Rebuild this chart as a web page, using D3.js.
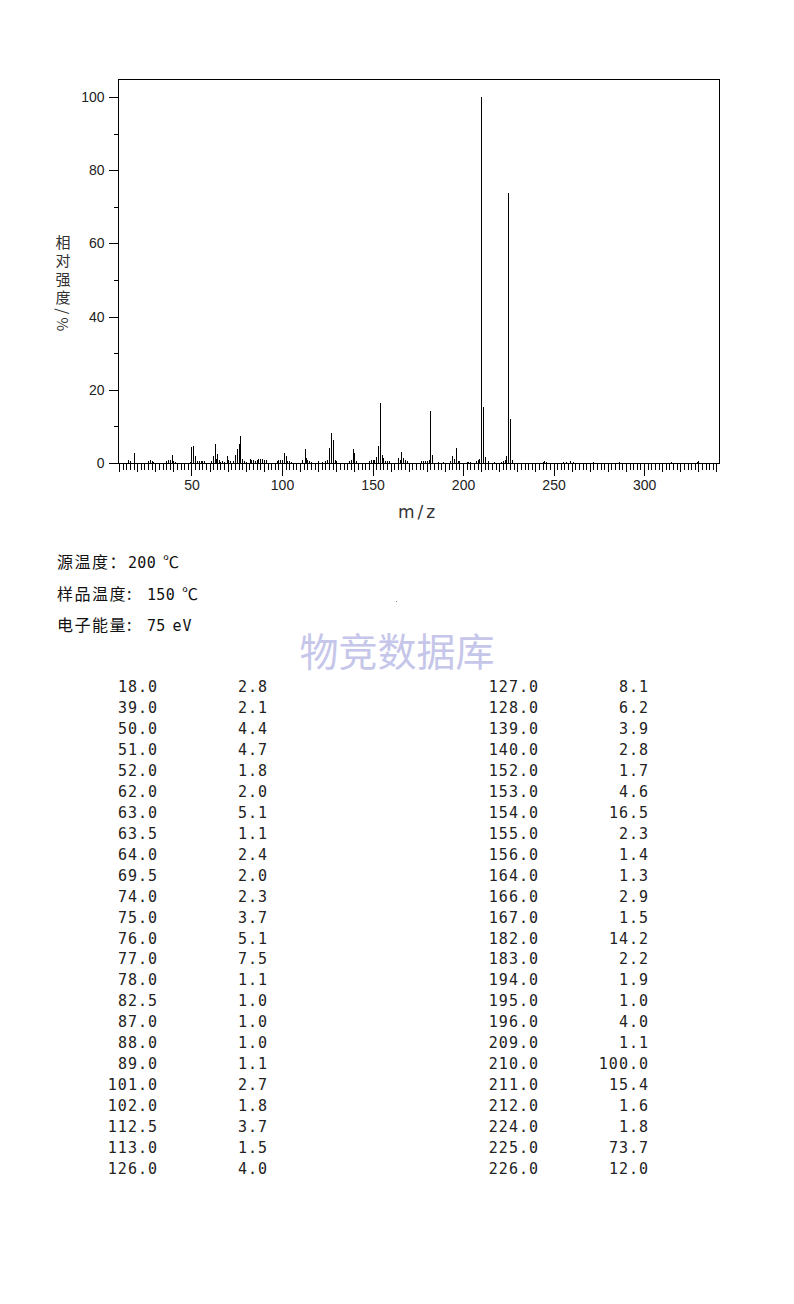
<!DOCTYPE html>
<html>
<head>
<meta charset="utf-8">
<script src="https://cdn.jsdelivr.net/npm/d3@7"></script>
<style>
  body { margin: 0; background: #fff; }
  svg { display: block; }
</style>
</head>
<body>
<svg id="chart" width="794" height="1304"></svg>
<script>
// peaks listed in the table (m/z, relative intensity %)
const tableMz = [18.0, 39.0, 50.0, 51.0, 52.0, 62.0, 63.0, 63.5, 64.0, 69.5, 74.0, 75.0,
  76.0, 77.0, 78.0, 82.5, 87.0, 88.0, 89.0, 101.0, 102.0, 112.5, 113.0, 126.0,
  127.0, 128.0, 139.0, 140.0, 152.0, 153.0, 154.0, 155.0, 156.0, 164.0, 166.0, 167.0,
  182.0, 183.0, 194.0, 195.0, 196.0, 209.0, 210.0, 211.0, 212.0, 224.0, 225.0, 226.0];
const tableInt = [2.8, 2.1, 4.4, 4.7, 1.8, 2.0, 5.1, 1.1, 2.4, 2.0, 2.3, 3.7,
  5.1, 7.5, 1.1, 1.0, 1.0, 1.0, 1.1, 2.7, 1.8, 3.7, 1.5, 4.0,
  8.1, 6.2, 3.9, 2.8, 1.7, 4.6, 16.5, 2.3, 1.4, 1.3, 2.9, 1.5,
  14.2, 2.2, 1.9, 1.0, 4.0, 1.1, 100.0, 15.4, 1.6, 1.8, 73.7, 12.0];

// small peaks (< 1 %)
const minorMz = [15, 16, 26, 27, 28, 29, 36, 37, 38, 40, 41, 49, 53, 54, 55, 56, 57, 61,
  65, 66, 67, 68, 70, 71, 73, 79, 80, 83, 84, 85, 86, 90, 91, 97, 98, 99, 100,
  103, 104, 105, 111, 114, 115, 116, 120, 122, 124, 125, 129, 130, 137, 138, 141,
  148, 149, 150, 151, 157, 158, 159, 165, 168, 169, 177, 178, 179, 180, 181, 186,
  189, 193, 197, 198, 202, 203, 204, 207, 208, 214, 217, 221, 222, 223, 227,
  244, 245, 246, 255, 257, 259, 261, 272, 286, 315, 329, 330];
const minorInt = [0.8, 0.5, 0.5, 0.8, 0.6, 0.4, 0.5, 0.8, 0.9, 0.6, 0.4, 0.4, 0.6, 0.5,
  0.5, 0.5, 0.5, 0.6, 0.8, 0.4, 0.5, 0.4, 0.7, 0.5, 0.5, 0.6, 0.4, 0.7, 0.7, 0.5,
  0.9, 0.8, 0.7, 0.6, 0.8, 0.9, 0.9, 0.5, 0.6, 0.4, 0.7, 0.9, 0.6, 0.4, 0.5, 0.4,
  0.6, 0.9, 0.8, 0.5, 0.6, 0.9, 0.6, 0.6, 0.9, 0.8, 0.7, 0.5, 0.5, 0.5, 0.9, 0.8,
  0.5, 0.5, 0.5, 0.5, 0.6, 0.9, 0.4, 0.4, 0.6, 0.6, 0.5, 0.4, 0.4, 0.4, 0.6, 0.8,
  0.5, 0.4, 0.4, 0.6, 0.9, 0.8, 0.4, 0.5, 0.4, 0.4, 0.4, 0.5, 0.3, 0.3, 0.3, 0.3,
  0.4, 0.5];

const xDomain = [9.4, 341.4];
const yDomain = [0, 104.9];
const xLabelTicks = [50, 100, 150, 200, 250, 300];
const yLabelTicks = [0, 20, 40, 60, 80, 100];

const infoLabels = ["源温度：", "样品温度:", "电子能量:"];
const infoValues = ["200", "150", "75"];
const infoUnits = ["℃", "℃", "eV"];
const watermark = "物竞数据库";

const svg = d3.select("#chart");
const plotL = 118, plotR = 719, plotT = 79, plotB = 463;

let x = d3.scaleLinear().domain(xDomain).range([plotL, plotR]);
let y = d3.scaleLinear().domain(yDomain).range([plotB, plotT]);

// peaks
const peaks = tableMz.map((m, i) => ({mz: m, v: tableInt[i]}))
  .concat(minorMz.map((m, i) => ({mz: m, v: minorInt[i]})));

svg.append("g")
  .selectAll("line")
  .data(peaks)
  .enter().append("line")
  .attr("x1", d => Math.round(x(d.mz)) + 0.5)
  .attr("x2", d => Math.round(x(d.mz)) + 0.5)
  .attr("y1", y(0))
  .attr("y2", d => y(d.v))
  .attr("stroke", "#000")
  .attr("stroke-width", 1)
  .attr("shape-rendering", "crispEdges");

// frame
svg.append("rect")
  .attr("x", plotL + 0.5).attr("y", plotT + 0.5)
  .attr("width", plotR - plotL).attr("height", plotB - plotT)
  .attr("fill", "none").attr("stroke", "#000")
  .attr("shape-rendering", "crispEdges");

// x axis
const xTicks = d3.range(10, 341, 2);
let xAxis = svg.append("g")
  .attr("transform", `translate(0,${plotB + 0.5})`)
  .call(d3.axisBottom(x).tickValues(xTicks).tickSizeOuter(0)
    .tickFormat(d => xLabelTicks.includes(d) ? d : ""));
xAxis.select(".domain").remove();
xAxis.selectAll(".tick line")
  .attr("y2", d => d % 50 === 0 ? 12 : (d % 10 === 0 ? 8 : 6))
  .attr("shape-rendering", "crispEdges");
xAxis.selectAll(".tick text")
  .attr("y", 17)
  .style("font-family", "'Liberation Sans', Arial, sans-serif")
  .style("font-size", "14px")
  .attr("fill", "#222");

// y axis
let yAxis = svg.append("g")
  .attr("transform", `translate(${plotL + 0.5},0)`)
  .call(d3.axisLeft(y).tickValues(d3.range(0, 101, 10)).tickSizeOuter(0)
    .tickFormat(d => yLabelTicks.includes(d) ? d : ""));
yAxis.select(".domain").remove();
yAxis.selectAll(".tick line")
  .attr("x2", d => d % 20 === 0 ? -10 : -5)
  .attr("shape-rendering", "crispEdges");
yAxis.selectAll(".tick text")
  .attr("x", -14)
  .style("font-family", "'Liberation Sans', Arial, sans-serif")
  .style("font-size", "14px")
  .attr("fill", "#222");

// axis titles
svg.append("text")
  .attr("x", 418).attr("y", 518)
  .attr("text-anchor", "middle")
  .style("font-family", "'DejaVu Sans', sans-serif")
  .style("font-size", "17px")
  .style("letter-spacing", "3px")
  .attr("fill", "#333")
  .text("m/z");

// vertical y title: CJK upright, "/%" turned sideways
svg.append("text")
  .attr("x", 63).attr("y", 235)
  .style("writing-mode", "vertical-rl")
  .style("font-family", "'Noto Sans CJK SC', sans-serif")
  .style("font-size", "15px")
  .style("letter-spacing", "3.3px")
  .attr("fill", "#333")
  .text("相对强度/%");

// info lines
const valueX = [128, 147, 147];
let info = svg.append("g").attr("fill", "#111");
infoLabels.forEach((lab, i) => {
  const yy = 568 + i * 31.5;
  info.append("text")
    .attr("x", 57).attr("y", yy)
    .style("font-family", "'Noto Sans CJK SC', sans-serif")
    .style("font-size", "16px")
    .style("letter-spacing", "1.5px")
    .text(lab);
  info.append("text")
    .attr("x", valueX[i]).attr("y", yy)
    .style("font-family", "'DejaVu Sans Mono', monospace")
    .style("font-size", "15px")
    .style("letter-spacing", "0.3px")
    .text(infoValues[i]);
  info.append("text")
    .attr("x", valueX[i] + infoValues[i].length * 9.3 + 7).attr("y", yy)
    .style("font-family", infoUnits[i] === "℃" ? "'Noto Sans CJK SC', sans-serif" : "'DejaVu Sans Mono', monospace")
    .style("font-size", infoUnits[i] === "℃" ? "16px" : "15px")
    .style("letter-spacing", "1px")
    .text(infoUnits[i]);
});

svg.append("rect").attr("x", 396).attr("y", 601).attr("width", 1).attr("height", 1).attr("fill", "#888");

svg.append("text")
  .attr("x", 397).attr("y", 666)
  .attr("text-anchor", "middle")
  .style("font-family", "'Noto Sans CJK SC', sans-serif")
  .style("font-size", "39px")
  .attr("fill", "#c6c6ea")
  .text(watermark);

// peak table
const rowsPerCol = 24;
const colX = [[158, 268], [539, 649]];
let table = svg.append("g")
  .style("font-family", "'DejaVu Sans Mono', 'Liberation Mono', monospace")
  .style("font-size", "15px")
  .attr("fill", "#222");
tableMz.forEach((m, i) => {
  const c = Math.floor(i / rowsPerCol), r = i % rowsPerCol;
  const yy = 692 + r * 20.96;
  table.append("text").attr("x", colX[c][0]).attr("y", yy)
    .attr("text-anchor", "end").style("letter-spacing", "1px").text(m.toFixed(1));
  table.append("text").attr("x", colX[c][1]).attr("y", yy)
    .attr("text-anchor", "end").style("letter-spacing", "1px").text(tableInt[i].toFixed(1));
});
</script>
</body>
</html>
